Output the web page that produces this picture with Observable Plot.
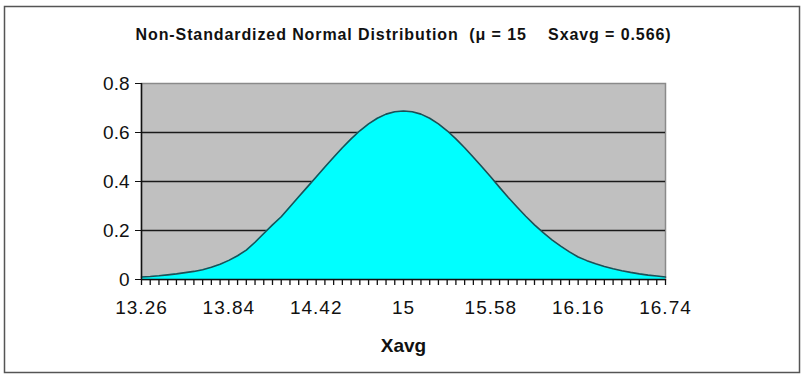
<!DOCTYPE html>
<html>
<head>
<meta charset="utf-8">
<script src="https://cdn.jsdelivr.net/npm/d3@7"></script>
<script src="https://cdn.jsdelivr.net/npm/@observablehq/plot@0.6"></script>
<style>
  html, body { margin: 0; padding: 0; background: #fff; }
  svg { font-family: "Liberation Sans", Arial, sans-serif; white-space: pre; }
  .xt text { letter-spacing: 1px; }
  .tt text { letter-spacing: 0.9px; }
</style>
</head>
<body>
<div id="chart"></div>
<script>
const titleText = "Non-Standardized Normal Distribution  (\u03bc = 15    Sxavg = 0.566)";
const xLabel = "Xavg";
const xStart = 13.26;
const xStep = 0.058;
const tickLabels = ["13.26", "13.84", "14.42", "15", "15.58", "16.16", "16.74"];
const yTicks = [0, 0.2, 0.4, 0.6, 0.8];
const gridValues = [0.2, 0.4, 0.6];
const density = [
  0.010, 0.012, 0.015, 0.019, 0.023, 0.028, 0.033, 0.040, 0.050, 0.062,
  0.078, 0.097, 0.120, 0.152, 0.188, 0.223, 0.256, 0.297, 0.338, 0.378,
  0.418, 0.459, 0.499, 0.538, 0.574, 0.607, 0.635, 0.658, 0.675, 0.685,
  0.688,
  0.685, 0.675, 0.658, 0.635, 0.607, 0.574, 0.538, 0.499, 0.459, 0.418,
  0.376, 0.335, 0.296, 0.258, 0.223, 0.191, 0.162, 0.136, 0.113, 0.092,
  0.077, 0.064, 0.053, 0.044, 0.036, 0.029, 0.023, 0.018, 0.014, 0.010
];

const data = density.map((v, i) => ({x: xStart + i * xStep, y: v, i}));
const xTicks = data.map(d => d.x);
const xMin = data[0].x, xMax = data[data.length - 1].x;

const chart = Plot.plot({
  width: 812,
  height: 381,
  marginLeft: 141,
  marginRight: 147,
  marginTop: 83,
  marginBottom: 102,
  style: {fontFamily: "'Liberation Sans', Arial, sans-serif", background: "#fff", overflow: "visible"},
  x: {domain: [xMin, xMax]},
  y: {domain: [0, 0.8]},
  marks: [
    Plot.frame({fill: "#c0c0c0", stroke: "#8a8a8a", strokeWidth: 1.5}),
    Plot.ruleY(gridValues, {stroke: "#1a1a1a", strokeWidth: 1.5}),
    Plot.areaY(data, {x: "x", y: "y", fill: "#00ffff", curve: "linear"}),
    Plot.lineY(data, {x: "x", y: "y", stroke: "#1e4f55", strokeWidth: 1.6}),
    Plot.ruleY([0], {stroke: "#111", strokeWidth: 1.5}),
    Plot.ruleX([xMin], {stroke: "#111", strokeWidth: 1.5}),
    Plot.axisY({
      ticks: yTicks,
      tickFormat: d => d === 0 ? "0" : d.toFixed(1),
      tickSize: 6,
      tickPadding: 6,
      fontSize: 19,
      stroke: "#111",
      color: "#111",
      label: null
    }),
    Plot.axisX({
      ticks: xTicks,
      tickFormat: (d, i) => i % 10 === 0 ? tickLabels[i / 10] : "",
      tickSize: 6,
      tickPadding: 15,
      fontSize: 19,
      stroke: "#111",
      strokeWidth: 1.3,
      color: "#111",
      label: null,
      className: "xt"
    }),
    Plot.text([xLabel], {frameAnchor: "bottom", dy: 72, fontSize: 19, fontWeight: "bold", fill: "#111"}),
    Plot.text([titleText], {frameAnchor: "top", dy: -55, fontSize: 16, fontWeight: "bold", fill: "#111", className: "tt"})
  ]
});

// outer chart border
const svg = d3.select(chart);
svg.insert("rect", ":first-child")
  .attr("x", 4.5).attr("y", 6.5).attr("width", 795).attr("height", 366)
  .attr("fill", "#fff").attr("stroke", "#555").attr("stroke-width", 1.5);

document.getElementById("chart").appendChild(chart);
</script>
</body>
</html>
